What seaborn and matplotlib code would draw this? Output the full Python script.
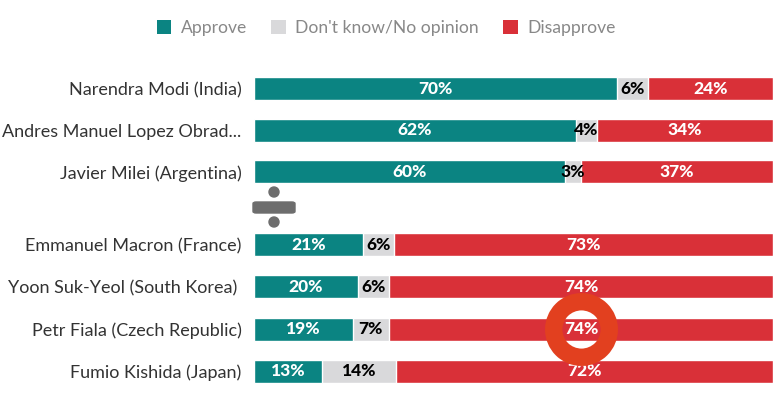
import numpy as np
import pandas as pd
import matplotlib
matplotlib.use("Agg")
import matplotlib.pyplot as plt
from matplotlib.patches import Patch, Ellipse, FancyBboxPatch
import seaborn as sns

# data
leaders = ["Narendra Modi (India)", "Andres Manuel Lopez Obrad...", "Javier Milei (Argentina)",
           "Emmanuel Macron (France)", "Yoon Suk-Yeol (South Korea) ", "Petr Fiala (Czech Republic)",
           "Fumio Kishida (Japan)"]
group = ["top", "top", "top", "bottom", "bottom", "bottom", "bottom"]
approve = [70, 62, 60, 21, 20, 19, 13]
dont_know = [6, 4, 3, 6, 6, 7, 14]
disapprove = [24, 34, 37, 73, 74, 74, 72]
series = ["Approve", "Don't know/No opinion", "Disapprove"]

colors = {"Approve": "#0b8482", "Don't know/No opinion": "#d9d9db", "Disapprove": "#d93038"}
text_colors = {"Approve": "white", "Don't know/No opinion": "black", "Disapprove": "white"}

df = pd.DataFrame({"leader": leaders, "group": group, "Approve": approve,
                   "Don't know/No opinion": dont_know, "Disapprove": disapprove})
total = df[series].sum(axis=1)
for s in series:
    df[s + "_share"] = df[s] / total * 100
df["c1"] = df["Approve_share"]
df["c2"] = df["c1"] + df["Don't know/No opinion_share"]
df["c3"] = df["c2"] + df["Disapprove_share"]

sns.set_theme(style="white")
plt.rcParams["font.family"] = ["Lato", "DejaVu Sans"]

W, H = 784, 400
fig = plt.figure(figsize=(W / 100, H / 100), dpi=100)
left = 254 / W
width = 519 / W
ax_top = fig.add_axes([left, 1 - 192.5 / H, width, 124.5 / H])
ax_bot = fig.add_axes([left, 1 - 392.5 / H, width, 169 / H])

for ax, g in [(ax_top, "top"), (ax_bot, "bottom")]:
    d = df[df["group"] == g].reset_index(drop=True)
    sns.barplot(data=d, x="c3", y="leader", color=colors["Disapprove"], width=0.55,
                saturation=1, ax=ax, orient="h")
    sns.barplot(data=d, x="c2", y="leader", color=colors["Don't know/No opinion"], width=0.55,
                saturation=1, ax=ax, orient="h")
    sns.barplot(data=d, x="c1", y="leader", color=colors["Approve"], width=0.55,
                saturation=1, ax=ax, orient="h")
    for i, row in d.iterrows():
        start = 0
        for s in series:
            w = row[s + "_share"]
            ax.text(start + w / 2, i, f"{row[s]}%", ha="center", va="center",
                    color=text_colors[s], fontsize=12.5, fontweight="black", zorder=5)
            start += w
    ax.set_xlim(0, 100)
    ax.set_ylim(len(d) - 0.5, -0.5)
    ax.set_xlabel("")
    ax.set_ylabel("")
    ax.set_xticks([])
    ax.tick_params(axis="y", length=0, pad=9, labelsize=13, labelcolor="#333333")
    sns.despine(ax=ax, left=True, bottom=True)

# highlight ring over Petr Fiala's disapprove share
fiala = df[df["group"] == "bottom"].reset_index(drop=True)
fi = 2
fx = fiala.loc[fi, "c2"] + fiala.loc[fi, "Disapprove_share"] / 2
ax_bot.plot([fx], [fi], marker="o", markersize=40, markeredgewidth=12.5,
            markerfacecolor="none", markeredgecolor="#e2401f", zorder=10, clip_on=False)

# divide sign between the two groups
icon = "#6d6d6d"
fig.add_artist(FancyBboxPatch((253 / W, 1 - 213 / H), 42 / W, 11 / H,
                              boxstyle="round,pad=0,rounding_size=0.004",
                              transform=fig.transFigure, color=icon))
for cy in (192, 222):
    fig.add_artist(Ellipse((274 / W, 1 - cy / H), 10 / W, 10 / H,
                           transform=fig.transFigure, color=icon))

handles = [Patch(facecolor=colors[s], edgecolor="none", label=s) for s in series]
fig.legend(handles=handles, loc="center", bbox_to_anchor=(386 / W, 1 - 28 / H), ncol=3,
           frameon=False, fontsize=12.6, labelcolor="#888888", handlelength=0.85,
           handleheight=0.85, handletextpad=0.55, columnspacing=1.35)

fig.savefig("out.png", dpi=100)
